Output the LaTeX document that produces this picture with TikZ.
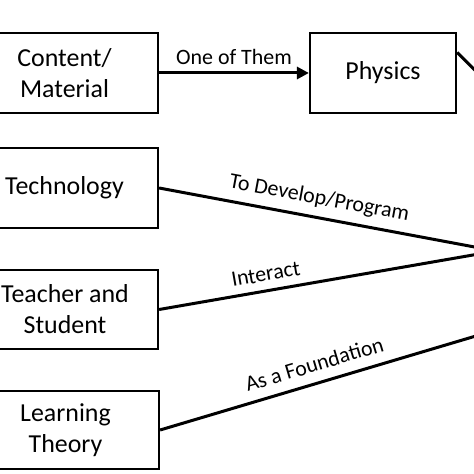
\documentclass[tikz,border=0pt]{standalone}
\usepackage{fontspec}
\setmainfont{Carlito}
\usetikzlibrary{arrows.meta,calc}
\begin{document}
\begin{tikzpicture}[x=1bp,y=-1bp,
  box/.style={draw, line width=2.2bp, inner sep=0pt},
  boxtext/.style={align=center, font=\fontsize{26}{31}\selectfont, inner sep=0pt},
  conn/.style={line width=3bp},
  lab/.style={font=\fontsize{22}{26}\selectfont, inner sep=2bp}]
\useasboundingbox (0,0) rectangle (474,474);
\clip (0,0) rectangle (474,474);
% boxes
\node[box, minimum width=159bp, minimum height=80bp] (cm) at (78.5,73) {};
\node[boxtext] (cmt) at (64.5,73) {Content/\\Material};
\node[box, minimum width=146bp, minimum height=80bp] (phys) at (383,73) {};
\node[boxtext] (physt) at (383,73) {Physics};
\node[box, minimum width=159bp, minimum height=80bp] (tech) at (78.5,188) {};
\node[boxtext] (techt) at (64.5,188) {Technology};
\node[box, minimum width=159bp, minimum height=79bp] (ts) at (78.5,309.5) {};
\node[boxtext] (tst) at (65,309.5) {Teacher and\\Student};
\node[box, minimum width=160bp, minimum height=78bp] (lt) at (79,430) {};
\node[boxtext] (ltt) at (65.5,430) {Learning\\Theory};
% off-page target points
\coordinate (conv) at (496,251);
\coordinate (found) at (496,330);
\coordinate (pend) at (496,91);
% connectors
\draw[conn,-{Triangle[length=12bp,width=12bp]}] (cm.east) -- node[lab, above=5bp] (l1) {One of Them} (phys.west);
\draw[conn] ($(phys.north east)!0.25!(phys.south east)$) -- (pend);
\draw[conn] (tech.east) -- node[lab, sloped, above=6bp, pos=0.465] (l2) {To Develop/Program} (conv);
\draw[conn] (ts.east) -- node[lab, sloped, above=6bp, pos=0.325] (l3) {Interact} (conv);
\draw[conn] (lt.east) -- node[lab, sloped, above=8bp, pos=0.475] (l4) {As a Founda{}tion} (found);
\end{tikzpicture}
\end{document}
